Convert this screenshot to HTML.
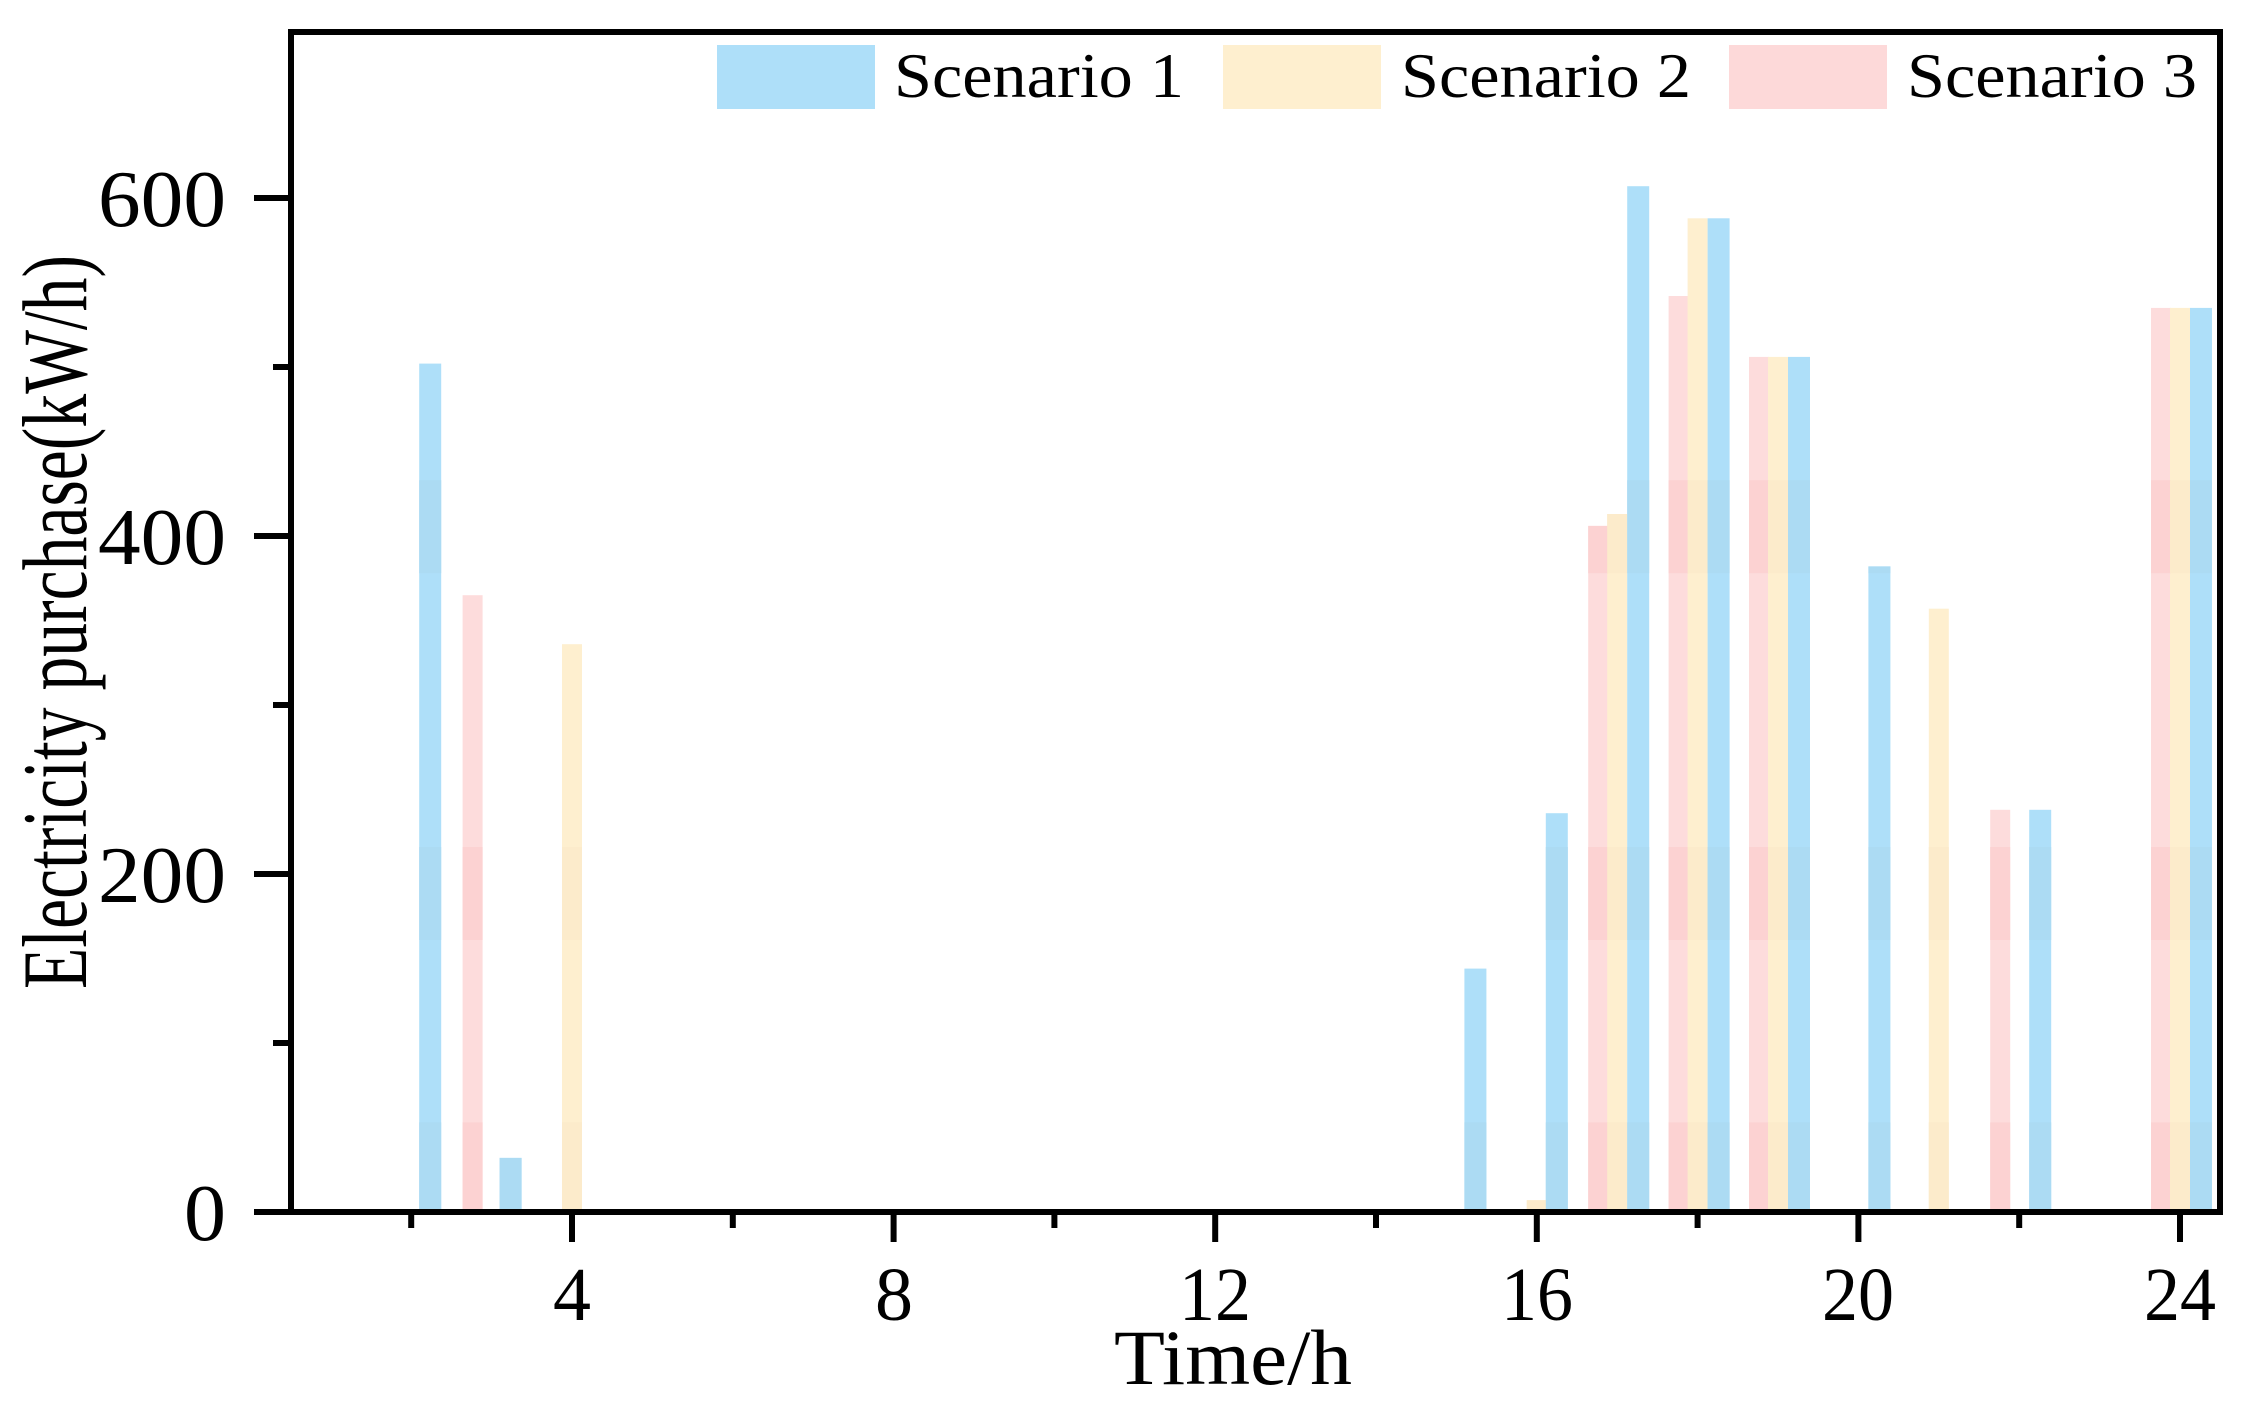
<!DOCTYPE html>
<html><head><meta charset="utf-8"><style>html,body{margin:0;padding:0;background:#fff}svg{display:block}</style></head>
<body>
<svg width="2253" height="1409" viewBox="0 0 2253 1409" xmlns="http://www.w3.org/2000/svg" xmlns:xlink="http://www.w3.org/1999/xlink" font-family="'Liberation Serif', serif" fill="#000">
<defs>
<clipPath id="bands">
<rect x="0" y="1122.4" width="2253" height="90"/>
<rect x="0" y="847" width="2253" height="93"/>
<rect x="0" y="480.2" width="2253" height="93"/>
</clipPath>
<g id="pk">
<rect x="462.6" y="595.2" width="20" height="616.8"/>
<rect x="1588.2" y="525.9" width="20" height="686.1"/>
<rect x="1668.6" y="296" width="20" height="916"/>
<rect x="1749" y="356.9" width="20" height="855.1"/>
<rect x="1990.2" y="809.8" width="20" height="402.2"/>
<rect x="2151" y="307.9" width="20" height="904.1"/>
</g>
<g id="yl">
<rect x="562" y="644.2" width="20" height="567.8"/>
<rect x="1526.8" y="1200.2" width="20" height="11.8"/>
<rect x="1607.2" y="514" width="20" height="698"/>
<rect x="1687.6" y="218.3" width="20" height="993.7"/>
<rect x="1768" y="356.9" width="20" height="855.1"/>
<rect x="1928.8" y="608.7" width="20" height="603.3"/>
<rect x="2170" y="307.9" width="20" height="904.1"/>
</g>
<g id="bl">
<rect x="419.2" y="363.6" width="22" height="848.4"/>
<rect x="499.6" y="1157.9" width="22" height="54.1"/>
<rect x="1464.4" y="968.6" width="22" height="243.4"/>
<rect x="1545.8" y="813.2" width="22" height="398.8"/>
<rect x="1627.2" y="186.2" width="22" height="1025.8"/>
<rect x="1707.6" y="218.3" width="22" height="993.7"/>
<rect x="1788" y="356.9" width="22" height="855.1"/>
<rect x="1868.4" y="566.4" width="22" height="645.6"/>
<rect x="2029.2" y="809.8" width="22" height="402.2"/>
<rect x="2190" y="307.9" width="22" height="904.1"/>
</g>
</defs>
<use xlink:href="#pk" fill="#fddcdc"/>
<use xlink:href="#yl" fill="#feefcf"/>
<use xlink:href="#bl" fill="#aedff9"/>
<g clip-path="url(#bands)">
<use xlink:href="#pk" fill="#fcd2d2"/>
<use xlink:href="#yl" fill="#fcebcb"/>
<use xlink:href="#bl" fill="#acdbf3"/>
</g>
<rect x="291" y="32" width="1929" height="1180" fill="none" stroke="#000" stroke-width="6"/>
<g stroke="#000" stroke-width="6">
<line x1="254" y1="1212" x2="291" y2="1212"/>
<line x1="254" y1="874" x2="291" y2="874"/>
<line x1="254" y1="536" x2="291" y2="536"/>
<line x1="254" y1="198" x2="291" y2="198"/>
<line x1="273" y1="1043" x2="291" y2="1043"/>
<line x1="273" y1="705" x2="291" y2="705"/>
<line x1="273" y1="367" x2="291" y2="367"/>
<line x1="411.2" y1="1212" x2="411.2" y2="1228"/>
<line x1="572" y1="1212" x2="572" y2="1242"/>
<line x1="732.8" y1="1212" x2="732.8" y2="1228"/>
<line x1="893.6" y1="1212" x2="893.6" y2="1242"/>
<line x1="1054.4" y1="1212" x2="1054.4" y2="1228"/>
<line x1="1215.2" y1="1212" x2="1215.2" y2="1242"/>
<line x1="1376" y1="1212" x2="1376" y2="1228"/>
<line x1="1536.8" y1="1212" x2="1536.8" y2="1242"/>
<line x1="1697.6" y1="1212" x2="1697.6" y2="1228"/>
<line x1="1858.4" y1="1212" x2="1858.4" y2="1242"/>
<line x1="2019.2" y1="1212" x2="2019.2" y2="1228"/>
<line x1="2180" y1="1212" x2="2180" y2="1242"/>
</g>
<g font-size="80" text-anchor="end">
<text x="226" y="1240" textLength="42" lengthAdjust="spacingAndGlyphs">0</text>
<text x="226" y="902" textLength="128" lengthAdjust="spacingAndGlyphs">200</text>
<text x="226" y="564" textLength="128" lengthAdjust="spacingAndGlyphs">400</text>
<text x="226" y="226" textLength="128" lengthAdjust="spacingAndGlyphs">600</text>
</g>
<g font-size="76" text-anchor="middle">
<text x="572" y="1320" textLength="38" lengthAdjust="spacingAndGlyphs">4</text>
<text x="894" y="1320" textLength="38" lengthAdjust="spacingAndGlyphs">8</text>
<text x="1215" y="1320" textLength="72" lengthAdjust="spacingAndGlyphs">12</text>
<text x="1537" y="1320" textLength="72" lengthAdjust="spacingAndGlyphs">16</text>
<text x="1858" y="1320" textLength="72" lengthAdjust="spacingAndGlyphs">20</text>
<text x="2180" y="1320" textLength="72" lengthAdjust="spacingAndGlyphs">24</text>
</g>
<text x="1233" y="1384" font-size="78" text-anchor="middle" textLength="238" lengthAdjust="spacingAndGlyphs">Time/h</text>
<g transform="translate(86,622) rotate(-90) scale(1,1.4)">
<text x="0" y="0" font-size="66" text-anchor="middle" textLength="734" lengthAdjust="spacingAndGlyphs">Electricity purchase(kW/h)</text>
</g>
<rect x="717" y="45" width="158" height="64" fill="#aedff9"/>
<rect x="1223" y="45" width="158" height="64" fill="#feefcf"/>
<rect x="1729" y="45" width="158" height="64" fill="#fdd9d9"/>
<g font-size="64">
<text x="894" y="97" textLength="290" lengthAdjust="spacingAndGlyphs">Scenario 1</text>
<text x="1401" y="97" textLength="290" lengthAdjust="spacingAndGlyphs">Scenario 2</text>
<text x="1907" y="97" textLength="290" lengthAdjust="spacingAndGlyphs">Scenario 3</text>
</g>
</svg>
</body></html>
